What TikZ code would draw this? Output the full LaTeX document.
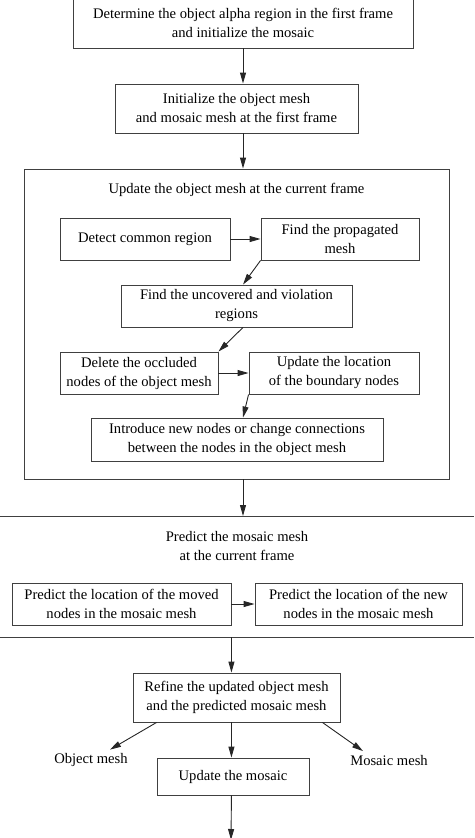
\documentclass[tikz,border=0pt]{standalone}
\usepackage{fontspec}
\setmainfont{Liberation Serif}
\usetikzlibrary{arrows.meta}
\begin{document}
\begin{tikzpicture}[
                      x=1pt,y=-1pt,
                      line width=0.9pt,
                      every node/.style={font=\fontsize{14.6}{19}\selectfont,align=center,text=black},
                      box/.style={draw=black!75,inner sep=0pt},
                      flow/.style={draw=black!85,-{Triangle[length=11pt,width=6pt]}}
                    ]
                    \useasboundingbox (0,0) rectangle (474,838);

                    \node[box,minimum width=340,minimum height=51] (init) at (243,22.5) {Determine the object alpha region in the first frame\\and initialize the mosaic};
                    \node[box,minimum width=243,minimum height=49] (mesh) at (236.5,108.5) {Initialize the object mesh\\and mosaic mesh at the first frame};

                    % update block
                    \node[box,minimum width=425,minimum height=310] (upd) at (236.5,324) {};
                    \node (updtitle) at (236.5,190) {Update the object mesh at the current frame};
                    \node[box,minimum width=170,minimum height=42] (common) at (145,239) {Detect common region};
                    \node[box,minimum width=158,minimum height=42] (prop) at (340,239) {Find the propagated\\mesh};
                    \node[box,minimum width=231,minimum height=42] (uncov) at (236.5,306) {Find the uncovered and violation\\regions};
                    \node[box,minimum width=158,minimum height=42] (occl) at (139,373) {Delete the occluded\\nodes of the object mesh};
                    \node[box,minimum width=170,minimum height=42] (bound) at (334,373) {Update the location\\of the boundary nodes};
                    \node[box,minimum width=292,minimum height=43] (intro) at (237,439.5) {Introduce new nodes or change connections\\between the nodes in the object mesh};

                    % mosaic prediction block
                    \coordinate (sepAl) at (0,516);
                    \coordinate (sepAr) at (474,516);
                    \coordinate (sepBl) at (0,637);
                    \coordinate (sepBr) at (474,637);
                    \node (predtitle) at (237,545.5) {Predict the mosaic mesh\\at the current frame};
                    \node[box,minimum width=219,minimum height=42] (moved) at (121.5,604) {Predict the location of the moved\\nodes in the mosaic mesh};
                    \node[box,minimum width=207,minimum height=42] (new) at (358.5,604) {Predict the location of the new\\nodes in the mosaic mesh};

                    \node[box,minimum width=207,minimum height=49] (refine) at (236.5,697.5) {Refine the updated object mesh\\and the predicted mosaic mesh};
                    \node (objout) at (91,760) {Object mesh};
                    \node (mosout) at (389,760) {Mosaic mesh};
                    \node[box,minimum width=152,minimum height=37] (mosaic) at (233,776.5) {Update the mosaic};
                    \coordinate (end) at (231,840);

                    \draw[draw=black!75] (sepAl) -- (sepAr);
                    \draw[draw=black!75] (sepBl) -- (sepBr);

                    \draw[flow] (init) -- (mesh.north -| init);
                    \draw[flow] (mesh.south -| init) -- (upd.north -| init);
                    \draw[flow] (common) -- (prop);
                    \draw[flow] (prop.south west) -- (uncov.north -| init);
                    \draw[flow] (uncov.south -| init) -- (occl.north east);
                    \draw[flow] (occl) -- (bound);
                    \draw[flow] (bound.south west) -- (intro.north -| init);
                    \draw[flow] (upd.south -| init) -- (sepAl -| init);
                    \draw[flow] (moved) -- (new);
                    \draw[flow] (sepBl -| moved.east) -- (refine.north -| moved.east);
                    \draw[flow] ([xshift=24]refine.south west) -- ([xshift=110]objout.north -| sepAl);
                    \draw[flow] ([xshift=-18]refine.south east) -- ([xshift=363]mosout.north -| sepAl);
                    \draw[flow] (refine.south -| moved.east) -- (mosaic.north -| moved.east);
                    \draw[flow] (mosaic.south -| moved.east) -- (end);
                  \end{tikzpicture}
\end{document}
